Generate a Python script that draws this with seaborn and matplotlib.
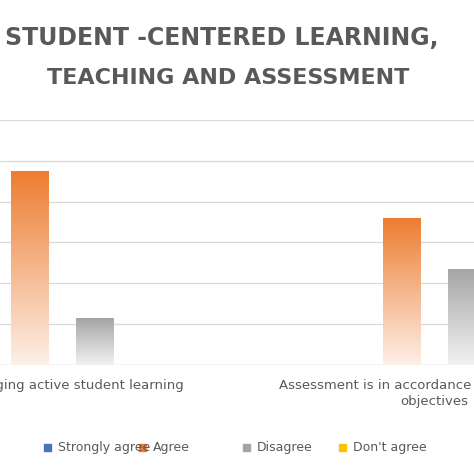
import matplotlib
matplotlib.use("Agg")
import matplotlib.pyplot as plt
import seaborn as sns
import pandas as pd
import numpy as np
from matplotlib.colors import LinearSegmentedColormap

categories = ["Encouraging active student learning",
              "Assessment is in accordance with the learning\nobjectives"]
responses = ["Strongly agree", "Agree", "Disagree", "Don't agree"]
strongly_agree = [0, 0]
agree = [4.75, 3.6]
disagree = [1.15, 2.35]
dont_agree = [0, 0]

colors = {"Strongly agree": "#4472C4", "Agree": "#ED7D31",
          "Disagree": "#A5A5A5", "Don't agree": "#FFC000"}
light = {"Strongly agree": "#DAE3F3", "Agree": "#FDF0E8",
         "Disagree": "#F2F2F2", "Don't agree": "#FFF2CC"}

rows = []
for i, c in enumerate(categories):
    for r, vals in zip(responses, [strongly_agree, agree, disagree, dont_agree]):
        rows.append({"cat": c, "resp": r, "val": vals[i]})
df = pd.DataFrame(rows)

sns.set_style("white")
plt.rcParams['font.family'] = ['DejaVu Sans']
fig = plt.figure(figsize=(4.74, 4.74), dpi=100)
ax = fig.add_axes([0, 0.23, 1, 245/474])
sns.barplot(data=df, x="cat", y="val", hue="resp", hue_order=responses,
            palette=colors, width=0.7, gap=0.43, ax=ax, legend=False)
ax.set_xlabel(""); ax.set_ylabel("")
ax.yaxis.grid(True, color="#D9D9D9", lw=0.9)
ax.set_axisbelow(True)
ax.tick_params(left=False, labelleft=False, bottom=False, labelbottom=False)
for s in ax.spines.values():
    s.set_visible(False)
ax.axhline(0, color="#D9D9D9", lw=0.9)

grad = np.linspace(1, 0, 256).reshape(-1, 1)
for container, r in zip(ax.containers, responses):
    cmap = LinearSegmentedColormap.from_list("g", [light[r], colors[r]])
    for p in container:
        h = p.get_height()
        if h <= 0:
            continue
        x0 = p.get_x(); w = p.get_width()
        im = ax.imshow(grad, extent=[x0, x0 + w, 0, h], aspect="auto",
                       cmap=cmap, zorder=3, origin="upper")
        im.set_clip_path(p)
        p.set_alpha(0)
ax.set_xlim(-62/372, 412/372)
ax.set_ylim(0, 6)
ax.set_yticks(range(0, 7))

for i, c in enumerate(categories):
    ax.text(i, -0.35, c, ha="center", va="top", fontsize=9.5,
            color="#595959", linespacing=1.3)

fig.text(222/474, 1 - 38/474, "STUDENT -CENTERED LEARNING,", ha="center",
         va="center", fontsize=17, fontweight="bold", color="#595959")
fig.text(228/474, 1 - 78/474, "TEACHING AND ASSESSMENT", ha="center",
         va="center", fontsize=16, fontweight="bold", color="#595959")

xs = [48, 143, 247, 343]
for x, r in zip(xs, responses):
    fig.patches.append(plt.Rectangle(((x - 4)/474, 1 - 451/474), 7/474, 7/474,
                                     transform=fig.transFigure, color=colors[r]))
    fig.text((x + 10)/474, 1 - 447/474, r, ha="left", va="center",
             fontsize=9, color="#595959")

fig.savefig("out.png", dpi=100)
